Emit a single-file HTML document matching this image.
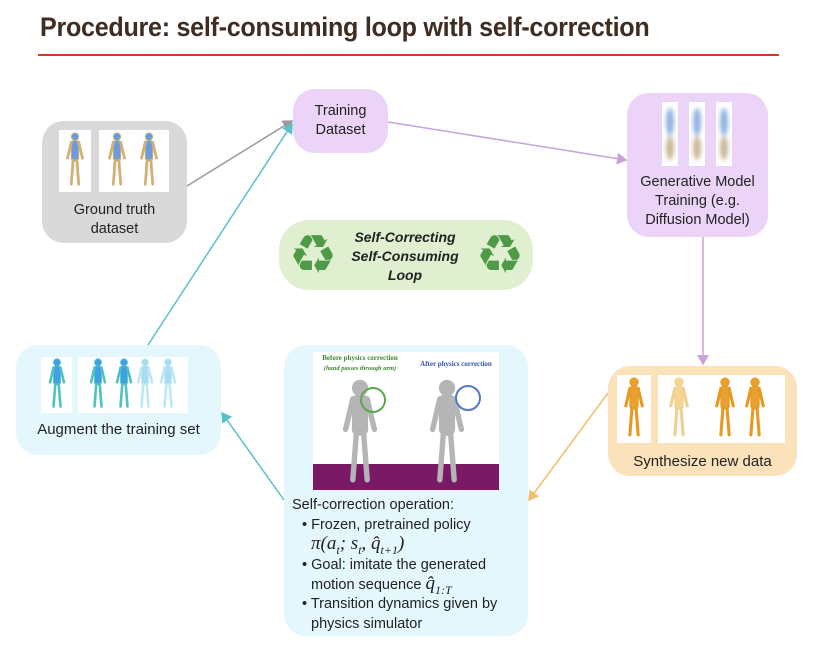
<!DOCTYPE html>
<html><head><meta charset="utf-8"><style>
body{margin:0;width:814px;height:650px;background:#fff;position:relative;overflow:hidden;font-family:"Liberation Sans","DejaVu Sans",sans-serif;}
.t{position:absolute;left:40px;top:12px;font-size:27px;font-weight:bold;color:#3f2d22;letter-spacing:-0.3px;transform:scaleX(0.93);transform-origin:left;}
.box{position:absolute;border-radius:22px;}
.lbl{position:absolute;text-align:center;font-size:14.5px;color:#222;line-height:19px;}
svg{position:absolute;left:0;top:0;}
sub{line-height:0;font-size:12px;}
.m{font-family:'Liberation Serif',serif;font-style:italic;font-size:19px;line-height:0;}
</style></head><body>
<div class="t">Procedure: self-consuming loop with self-correction</div>
<div style="position:absolute;left:38px;top:54px;width:741px;height:2px;background:#d9352f"></div>

<div class="box" style="left:42px;top:121px;width:145px;height:122px;background:#d9d9d9"></div>
<div class="box" style="left:293px;top:89px;width:95px;height:64px;background:#ecd4f8"></div>
<div class="box" style="left:627px;top:93px;width:141px;height:144px;background:#ecd4f8"></div>
<div class="box" style="left:279px;top:220px;width:254px;height:70px;background:#dfefcf;border-radius:30px"></div>
<div class="box" style="left:16px;top:345px;width:205px;height:110px;background:#e4f7fc"></div>
<div class="box" style="left:284px;top:345px;width:244px;height:291px;background:#e4f7fc"></div>
<div class="box" style="left:608px;top:366px;width:189px;height:110px;background:#fbe2bb"></div>

<svg width="814" height="650">
<defs>
<symbol id="fig" viewBox="0 0 20 60">
<circle cx="10" cy="5" r="4"/><rect x="6" y="9" width="8" height="22" rx="3"/>
<path d="M6 11 L2 28 M14 11 L18 28 M8 30 L6 56 M12 30 L14 56" stroke-width="3" stroke-linecap="round" fill="none"/>
</symbol>
<filter id="bl"><feGaussianBlur stdDeviation="2"/></filter>
<marker id="a" markerWidth="8" markerHeight="8" refX="6" refY="4" orient="auto"><path d="M0,0 L7,4 L0,8z" fill="context-stroke"/></marker>
</defs>
<rect x="59" y="130" width="32" height="62" fill="#fff"/><rect x="99" y="130" width="70" height="62" fill="#fff"/>
<g fill="#6a9de0" stroke="#d4b073"><use href="#fig" x="63" y="132" width="24" height="56"/><use href="#fig" x="104" y="132" width="26" height="56"/><use href="#fig" x="136" y="132" width="26" height="56"/></g>
<rect x="662" y="102" width="16" height="64" fill="#fff"/><rect x="689" y="102" width="16" height="64" fill="#fff"/><rect x="716" y="102" width="16" height="64" fill="#fff"/>
<g filter="url(#bl)"><g id="st"><ellipse cx="670" cy="122" rx="4" ry="14" fill="#8fb2e0"/><ellipse cx="670" cy="148" rx="4" ry="12" fill="#c9b89a"/></g><use href="#st" x="27"/><use href="#st" x="54"/></g>
<rect x="41" y="357" width="31" height="56" fill="#fff"/><rect x="78" y="357" width="110" height="56" fill="#fff"/>
<g fill="#3fa0e8" stroke="#4fc3c0"><use href="#fig" x="45" y="358" width="24" height="52"/><use href="#fig" x="86" y="358" width="24" height="52"/><use href="#fig" x="112" y="358" width="24" height="52"/></g>
<g fill="#a8dcf3" stroke="#bfe8f0"><use href="#fig" x="134" y="358" width="22" height="52"/><use href="#fig" x="157" y="358" width="22" height="52"/></g>
<rect x="617" y="375" width="34" height="68" fill="#fff"/><rect x="658" y="375" width="127" height="68" fill="#fff"/>
<g fill="#e8a030" stroke="#e89a20"><use href="#fig" x="620" y="377" width="28" height="62"/><use href="#fig" x="711" y="377" width="28" height="62"/><use href="#fig" x="741" y="377" width="28" height="62"/></g>
<g fill="#f5d590" stroke="#f0d090"><use href="#fig" x="665" y="377" width="28" height="62"/></g>
<rect x="313" y="352" width="186" height="138" fill="#fff"/><rect x="313" y="464" width="186" height="26" fill="#7a1a66"/>
<g fill="#b5b5b5" stroke="#b5b5b5"><use href="#fig" x="342" y="378" width="36" height="110"/><use href="#fig" x="429" y="378" width="36" height="110"/></g>
<circle cx="373" cy="400" r="12" fill="none" stroke="#5aa84a" stroke-width="2"/>
<circle cx="468" cy="398" r="12" fill="none" stroke="#5577c8" stroke-width="2"/>
<text x="360" y="360" font-family="Liberation Serif" font-size="7" font-weight="bold" fill="#3a8a2a" text-anchor="middle">Before physics correction</text>
<text x="360" y="370" font-family="Liberation Serif" font-size="6.5" font-style="italic" font-weight="bold" fill="#3a8a2a" text-anchor="middle">(hand passes through arm)</text>
<text x="456" y="366" font-family="Liberation Serif" font-size="7" font-weight="bold" fill="#3355aa" text-anchor="middle">After physics correction</text>
<line x1="187" y1="186" x2="292" y2="121" stroke="#999" stroke-width="1.5" marker-end="url(#a)"/>
<line x1="388" y1="122" x2="626" y2="160" stroke="#c8a3d8" stroke-width="1.5" marker-end="url(#a)"/>
<line x1="703" y1="237" x2="703" y2="364" stroke="#c8a3d8" stroke-width="1.5" marker-end="url(#a)"/>
<line x1="608" y1="393" x2="529" y2="500" stroke="#f0c070" stroke-width="1.5" marker-end="url(#a)"/>
<line x1="284" y1="500" x2="222" y2="413" stroke="#5bbfcc" stroke-width="1.5" marker-end="url(#a)"/>
<line x1="148" y1="345" x2="292" y2="124" stroke="#5bbfcc" stroke-width="1.5" marker-end="url(#a)"/>
</svg>

<div class="lbl" style="left:42px;top:201px;width:145px">Ground truth<br>dataset</div>
<div class="lbl" style="left:293px;top:102px;width:95px">Training<br>Dataset</div>
<div class="lbl" style="left:627px;top:173px;width:141px">Generative Model<br>Training (e.g.<br>Diffusion Model)</div>
<div class="lbl" style="left:16px;top:420px;width:205px;font-size:15px">Augment the training set</div>
<div class="lbl" style="left:608px;top:452px;width:189px;font-size:15px">Synthesize new data</div>
<div style="position:absolute;left:283px;top:224px;width:60px;font-size:54px;line-height:62px;color:#4f9a46;text-align:center;font-family:'DejaVu Sans',sans-serif">♻</div>
<div style="position:absolute;left:470px;top:224px;width:60px;font-size:54px;line-height:62px;color:#4f9a46;text-align:center;font-family:'DejaVu Sans',sans-serif">♻</div>
<div class="lbl" style="left:330px;top:228px;width:150px;font-weight:bold;font-style:italic;font-size:14px;line-height:19px">Self-Correcting<br>Self-Consuming<br>Loop</div>

<div style="position:absolute;left:292px;top:496px;width:240px;font-size:14.5px;color:#222;line-height:19.5px">
Self-correction operation:
<div style="padding-left:10px">• Frozen, pretrained policy<br>
<div style="height:21px;line-height:21px;padding-left:9px"><span class="m">π(a<sub>t</sub>; s<sub>t</sub>, q̂<sub>t+1</sub>)</span></div>
• Goal: imitate the generated<br><span style="padding-left:9px">motion sequence <span class="m">q̂<sub>1:T</sub></span></span><br>
• Transition dynamics given by<br><span style="padding-left:9px">physics simulator</span></div>
</div>
</body></html>
